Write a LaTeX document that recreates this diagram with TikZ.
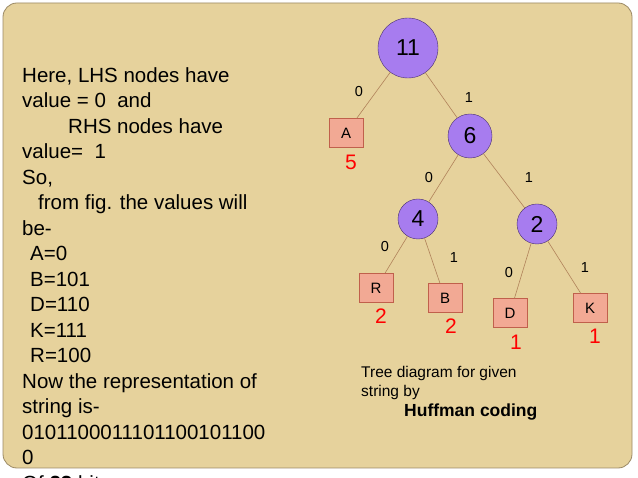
\documentclass[tikz,border=0pt]{standalone}
\usepackage{fontspec}
\setmainfont{Liberation Sans}
\definecolor{paper}{HTML}{E6D29C}
\definecolor{paperedge}{HTML}{9C8A66}
\definecolor{nodefill}{HTML}{A77CEF}
\definecolor{nodeedge}{HTML}{4A3070}
\definecolor{leaffill}{HTML}{F2A994}
\definecolor{leafedge}{HTML}{C0604C}
\definecolor{branch}{HTML}{B0825A}
\tikzset{
  inner/.style={circle,draw=nodeedge,fill=nodefill,inner sep=0pt,font=\fontsize{23}{23}\selectfont},
  leaf/.style={rectangle,draw=leafedge,fill=leaffill,minimum width=34pt,minimum height=29pt,font=\fontsize{15}{15}\selectfont},
  weight/.style={text=red,font=\fontsize{21}{21}\selectfont},
  bit/.style={font=\fontsize{14.5}{14.5}\selectfont},
  branch/.style={draw=branch,line width=0.6pt}
}
\begin{document}
\begin{tikzpicture}[x=1pt,y=-1pt]
  \useasboundingbox (0,0) rectangle (638,478);
  \fill[white] (0,0) rectangle (638,478);
  \filldraw[fill=paper,draw=paperedge,line width=0.8pt,rounded corners=14pt] (3,3) rectangle (632,468);
%%% left text
  \node[anchor=north west,align=left,font=\fontsize{20.5}{25.5}\selectfont,inner sep=0pt] (txt) at (22,67)
    {Here, LHS nodes have\\
     value = 0\ \ and\\
     \hspace{46pt}RHS nodes have\\
     value=\ \ 1\\
     So,\\
     \hspace{16pt}from fig. the values will\\
     be-\\
     \hspace{8pt}A=0\\
     \hspace{8pt}B=101\\
     \hspace{8pt}D=110\\
     \hspace{8pt}K=111\\
     \hspace{8pt}R=100\\
     Now the representation of\\
     string is-\\
     0101100011101100101100\\
     0\\
     Of \textbf{23} bits};
%%% tree
  \node[inner,minimum size=60pt] (n11) at (408,48) {11};
  \node[inner,minimum size=44pt] (n6) at (470,136) {6};
  \node[inner,minimum size=40pt] (n4) at (418,219) {4};
  \node[inner,minimum size=40pt] (n2) at (537,224) {2};
  \node[leaf] (A) at (346,133) {A};
  \node[leaf] (R) at (376,288) {R};
  \node[leaf] (B) at (445,298) {B};
  \node[leaf] (D) at (510,313) {D};
  \node[leaf] (K) at (590,308) {K};
  \draw[branch] (n11) -- (A);
  \draw[branch] (n11) -- (n6);
  \draw[branch] (n6) -- (n4);
  \draw[branch] (n6) -- (n2);
  \draw[branch] (n4) -- (R);
  \draw[branch] (n4) -- (B);
  \draw[branch] (n2) -- (D);
  \draw[branch] (n2) -- (K);
  \node[bit] (b1) at (359,92) {0};
  \node[bit] (b2) at (469,98) {1};
  \node[bit] (b3) at (429,178) {0};
  \node[bit] (b4) at (529,178) {1};
  \node[bit] (b5) at (385,247) {0};
  \node[bit] (b6) at (454,258) {1};
  \node[bit] (b7) at (509,273) {0};
  \node[bit] (b8) at (585,268) {1};
  \node[weight] (wA) at (351,162) {5};
  \node[weight] (wR) at (381,316) {2};
  \node[weight] (wB) at (451,326) {2};
  \node[weight] (wD) at (516,342) {1};
  \node[weight] (wK) at (595,336) {1};
%%% caption
  \node[anchor=north west,align=left,font=\fontsize{15.5}{19.5}\selectfont,inner sep=0pt] (cap) at (361,366)
    {Tree diagram for given\\string by\\\hspace{43pt}\fontsize{17.5}{19.5}\selectfont\textbf{Huffman coding}};
\end{tikzpicture}
\end{document}
